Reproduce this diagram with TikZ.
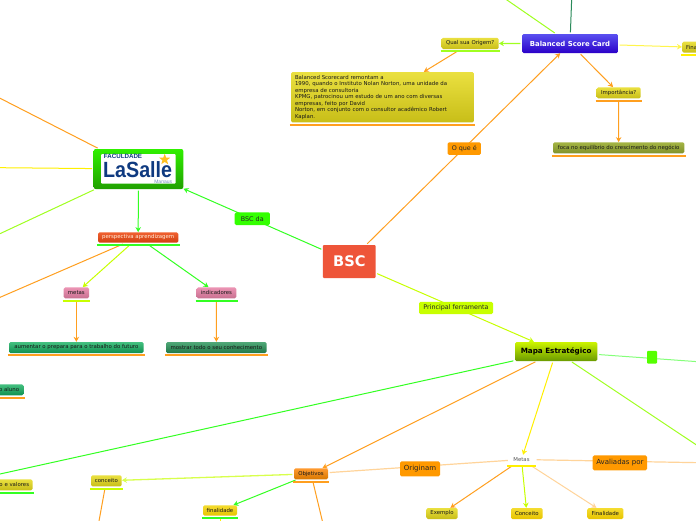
\documentclass[tikz,border=0pt]{standalone}
\usepackage{fontspec}
\setmainfont{DejaVu Sans}
\newfontfamily\logofont{Liberation Sans}
\usetikzlibrary{arrows.meta,shapes.geometric}
\definecolor{cGreen}{HTML}{33FF22}
\definecolor{cLime}{HTML}{C8FF00}
\definecolor{cLimeB}{HTML}{A0FF20}
\definecolor{cOrange}{HTML}{FF9F1F}
\definecolor{cPale}{HTML}{FFD49A}
\definecolor{cYellow}{HTML}{FFF000}
\definecolor{cTeal}{HTML}{2A8A5A}
\definecolor{cLogo}{HTML}{0F3A80}
\definecolor{cLogoB}{HTML}{6F8DB8}
\definecolor{cStar}{HTML}{FFC020}
\definecolor{cBsc}{HTML}{EE5539}
\definecolor{cFlatO}{HTML}{FF9900}
\definecolor{cFlatG}{HTML}{33FF00}
\definecolor{cBox}{HTML}{55FF00}
\definecolor{tBlueA}{HTML}{5A50F0}\definecolor{tBlueB}{HTML}{2A00C8}
\definecolor{tYelA}{HTML}{EAE040}\definecolor{tYelB}{HTML}{C8BE18}
\definecolor{tOliA}{HTML}{A4B444}\definecolor{tOliB}{HTML}{80922C}
\definecolor{tGrnA}{HTML}{30F000}\definecolor{tGrnB}{HTML}{20A000}
\definecolor{tRedA}{HTML}{F06030}\definecolor{tRedB}{HTML}{D04010}
\definecolor{tPnkA}{HTML}{EC94B4}\definecolor{tPnkB}{HTML}{C87090}
\definecolor{tEmeA}{HTML}{44C080}\definecolor{tEmeB}{HTML}{109050}
\definecolor{tSeaA}{HTML}{50A878}\definecolor{tSeaB}{HTML}{207848}
\definecolor{tGolA}{HTML}{F4DC30}\definecolor{tGolB}{HTML}{E8C400}
\definecolor{tOrgA}{HTML}{FF9A30}\definecolor{tOrgB}{HTML}{D87800}
\definecolor{tMapA}{HTML}{CCF400}\definecolor{tMapB}{HTML}{6A9A00}
\tikzset{
  cell/.style={rounded corners=1.5pt, inner sep=0pt, text=black!90, font=\fontsize{5.4}{6.5}\selectfont},
  flat/.style={rounded corners=1.5pt, inner sep=0pt, text=black!85, font=\fontsize{6.4}{7}\selectfont},
  link/.style={line width=1pt, shorten <=1.5pt},
  tip/.style={-{Stealth[length=5pt,width=5.5pt]}},
  ul/.style={line width=2pt},
  logotext/.style={inner sep=0pt, text=cLogo}
}
\newcommand{\under}[2]{\draw[ul,#2] ([xshift=-1pt,yshift=-2pt]#1.south west) -- ([xshift=1pt,yshift=-2pt]#1.south east);}
\pgfdeclarelayer{paper}
\pgfdeclarelayer{wires}
\pgfsetlayers{paper,wires,main}
\begin{document}
\begin{tikzpicture}[x=1pt,y=-1pt]
\useasboundingbox (0,0) rectangle (696,520);
\begin{pgfonlayer}{paper}
\fill[white] (0,0) rectangle (696,520);
\end{pgfonlayer}
% free ends
\coordinate (fA) at (492.5,-10);
\coordinate (fB) at (572,-10);
\coordinate (fC) at (-20,88);
\coordinate (fD) at (-20,167.5);
\coordinate (fE) at (-20,243);
\coordinate (fF) at (-20,306);
\coordinate (fG) at (-20,478.4);
\coordinate (fH) at (97,532);
\coordinate (fI) at (325,532);
\coordinate (fJ) at (220,530);
\coordinate (fK) at (716,363);
\coordinate (fL) at (716,458);
\coordinate (fM) at (716,463);
% central
\node[rounded corners=1pt, fill=cBsc, minimum width=52.7pt, minimum height=33pt, inner sep=0pt, text=white, font=\fontsize{14.6}{16}\selectfont\bfseries] (bsc) at (349.3,261.5) {BSC};
% upper right
\node[cell, top color=tBlueA, bottom color=tBlueB, minimum width=96pt, minimum height=19pt, text=white, font=\fontsize{6.9}{8}\selectfont\bfseries] (bal) at (570,43.5) {Balanced Score Card};
\node[cell, top color=tYelA, bottom color=tYelB, minimum width=57pt, minimum height=11.3pt] (qual) at (470.2,43.4) {Qual sua Origem?};
\under{qual}{cLimeB}
\node[cell, top color=tYelA, bottom color=tYelB, minimum width=183pt, minimum height=50.3pt, align=left, text width=175pt] (orig) at (382.5,97.2) {Balanced Scorecard remontam a\\1990, quando o Instituto Nolan Norton, uma unidade da\\empresa de consultoria\\KPMG, patrocinou um estudo de um ano com diversas\\empresas, feito por David\\Norton, em conjunto com o consultor acadêmico Robert\\Kaplan.};
\under{orig}{cOrange}
\node[cell, top color=tYelA, bottom color=tYelB, minimum width=44pt, minimum height=11pt] (imp) at (618.7,92.8) {Importância?};
\under{imp}{cOrange}
\node[cell, top color=tOliA, bottom color=tOliB, minimum width=131.3pt, minimum height=11pt] (foca) at (618.65,147.8) {foca no equilíbrio do crescimento do negócio};
\under{foca}{cOrange}
\node[flat, fill=cFlatO, minimum width=33.3pt, minimum height=12.7pt] (oque) at (464.3,148.6) {O que é};
\node[cell, top color=tYelA, bottom color=tYelB, minimum height=11pt, inner xsep=4pt, anchor=west] (fina) at (682,47.2) {Fina};
\under{fina}{cYellow}
% logo
\node[cell, top color=tGrnA, bottom color=tGrnB, minimum width=89.6pt, minimum height=40pt, rounded corners=2pt] (lasalle) at (138.5,169) {};
\node[fill=white, rounded corners=1pt, minimum width=74.7pt, minimum height=29.7pt, inner sep=0pt] (logobg) at (138.35,168.85) {};
\node[logotext, anchor=west, font=\logofont\fontsize{6.2}{6.5}\selectfont\bfseries] (logoa) at (103.7,156.4) {FACULDADE};
\node[logotext, anchor=west, font=\logofont\fontsize{22}{22}\selectfont\bfseries, xscale=.895, transform shape] (logob) at (103,170) {LaSalle};
\node[logotext, anchor=east, text=cLogoB, font=\logofont\fontsize{5}{5.5}\selectfont] (logoc) at (172.3,181.7) {Manaus};
\node[star, star points=5, star point ratio=2.4, fill=cStar, minimum size=11.5pt, inner sep=0pt] (logos) at (164.7,159.5) {};
% left branch
\node[flat, fill=cFlatG, minimum width=35.3pt, minimum height=12.7pt] (bscda) at (252.3,218.7) {BSC da};
\node[cell, top color=tRedA, bottom color=tRedB, minimum width=80.3pt, minimum height=10.4pt, text=white!85!orange] (persp) at (138.15,237.5) {perspectiva aprendizagem};
\under{persp}{cGreen}
\node[cell, top color=tPnkA, bottom color=tPnkB, minimum width=25.3pt, minimum height=11pt] (metas) at (76.35,292.8) {metas};
\under{metas}{cLime}
\node[cell, top color=tPnkA, bottom color=tPnkB, minimum width=39.6pt, minimum height=11pt] (ind) at (216.5,292.8) {indicadores};
\under{ind}{cGreen}
\node[cell, top color=tEmeA, bottom color=tEmeB, minimum width=134.7pt, minimum height=11pt] (aum) at (76.35,347.5) {aumentar o prepara para o trabalho do futuro};
\under{aum}{cOrange}
\node[cell, top color=tSeaA, bottom color=tSeaB, minimum width=100.7pt, minimum height=11pt] (mos) at (216.35,347.5) {mostrar todo o seu conhecimento};
\under{mos}{cOrange}
\node[cell, top color=tEmeA, bottom color=tEmeB, minimum height=11pt, inner xsep=4.4pt, anchor=east] (aluno) at (23.7,389.8) {o aluno};
\under{aluno}{cOrange}
\node[cell, top color=tYelA, bottom color=tYelB, minimum height=11pt, inner xsep=3.4pt, anchor=east] (valores) at (32.7,484.8) {o e valores};
\under{valores}{cGreen}
\node[cell, top color=tYelA, bottom color=tYelB, minimum width=30.7pt, minimum height=11pt] (conc) at (106.35,480.8) {conceito};
\under{conc}{cLime}
\node[cell, top color=tGolA, bottom color=tGolB, minimum width=34pt, minimum height=10.4pt] (fin) at (220,510.5) {finalidade};
\under{fin}{cGreen}
\node[cell, top color=tOrgA, bottom color=tOrgB, minimum width=34pt, minimum height=11pt] (obj) at (311,473.8) {Objetivos};
\under{obj}{cOrange}
% lower right
\node[cell, top color=tMapA, bottom color=tMapB, minimum width=82.3pt, minimum height=19pt, text=black, font=\fontsize{7.2}{8}\selectfont\bfseries] (mapa) at (556.15,351.5) {Mapa Estratégico};
\node[flat, fill=cLime, minimum width=74pt, minimum height=12.3pt] (princ) at (456,307.9) {Principal ferramenta};
\node[fill=cBox, rounded corners=1pt, minimum width=10pt, minimum height=12.7pt, inner sep=0pt] (dot) at (652,357.3) {};
\node[cell, fill=white, minimum width=27pt, minimum height=9pt, text=black!65] (met) at (521.5,459.5) {Metas};
\under{met}{cYellow}
\node[flat, fill=cFlatO, minimum width=40pt, minimum height=15pt, font=\fontsize{7}{8}\selectfont] (orn) at (420,468.8) {Originam};
\node[flat, fill=cFlatO, minimum width=54.3pt, minimum height=15pt, font=\fontsize{7}{8}\selectfont] (ava) at (619.85,462.8) {Avaliadas por};
\node[cell, top color=tYelA, bottom color=tYelB, minimum width=31.4pt, minimum height=11pt] (exe) at (442,513.5) {Exemplo};
\node[cell, top color=tGolA, bottom color=tGolB, minimum width=31.7pt, minimum height=11pt] (con) at (526.85,513.5) {Conceito};
\node[cell, top color=tGolA, bottom color=tGolB, minimum width=36pt, minimum height=11pt] (fnl) at (605.3,513.5) {Finalidade};
% connectors
\begin{pgfonlayer}{wires}
\draw[link,tip,cOrange] (bsc) -- (bal);
\draw[link,tip,cGreen] (bsc) -- (lasalle);
\draw[link,tip,cLime] (bsc) -- (mapa);
\draw[link,cLimeB] (bal) -- (fA);
\draw[link,cTeal] (bal) -- (fB);
\draw[link,tip,cLimeB,line width=1.3pt] (bal) -- (qual);
\draw[link,tip,cYellow!70!white] (bal) -- (fina);
\draw[link,tip,cOrange,shorten <=3pt] (qual) -- (orig);
\draw[link,tip,cOrange] (bal) -- (imp);
\draw[link,tip,cOrange,shorten <=3pt] (imp) -- (foca);
\draw[link,cOrange] (lasalle) -- (fC);
\draw[link,cYellow] (lasalle) -- (fD);
\draw[link,cLimeB] (lasalle) -- (fE);
\draw[link,tip,cGreen] (lasalle) -- (persp);
\draw[link,cOrange,shorten <=3pt] (persp) -- (fF);
\draw[link,tip,cLime,shorten <=3pt] (persp) -- (metas);
\draw[link,tip,cGreen,shorten <=3pt] (persp) -- (ind);
\draw[link,tip,cOrange,shorten <=3pt] (metas) -- (aum);
\draw[link,tip,cOrange,shorten <=3pt] (ind) -- (mos);
\draw[link,cGreen] (mapa) -- (fG);
\draw[link,tip,cOrange] (mapa) -- (obj);
\draw[link,tip,cYellow] (mapa) -- (met);
\draw[link,cLimeB] (mapa) -- (fL);
\draw[link,cGreen!60!white] (mapa) -- (fK);
\draw[link,tip,cLime!70!white,line width=1.3pt] (obj) -- (conc);
\draw[link,tip,cGreen] (obj) -- (fin);
\draw[link,cOrange,shorten <=3pt] (obj) -- (fI);
\draw[link,cOrange,shorten <=3pt] (conc) -- (fH);
\draw[link,cYellow,shorten <=3pt] (fin) -- (fJ);
\draw[link,cPale,line width=1.2pt] (obj) -- (met);
\draw[link,cPale,line width=1.2pt] (met) -- (fM);
\draw[link,tip,cOrange,shorten <=3pt] (met) -- (exe);
\draw[link,tip,cLime,shorten <=3pt] (met) -- (con);
\draw[link,tip,cPale,shorten <=3pt] (met) -- (fnl);
\end{pgfonlayer}
\end{tikzpicture}
\end{document}
